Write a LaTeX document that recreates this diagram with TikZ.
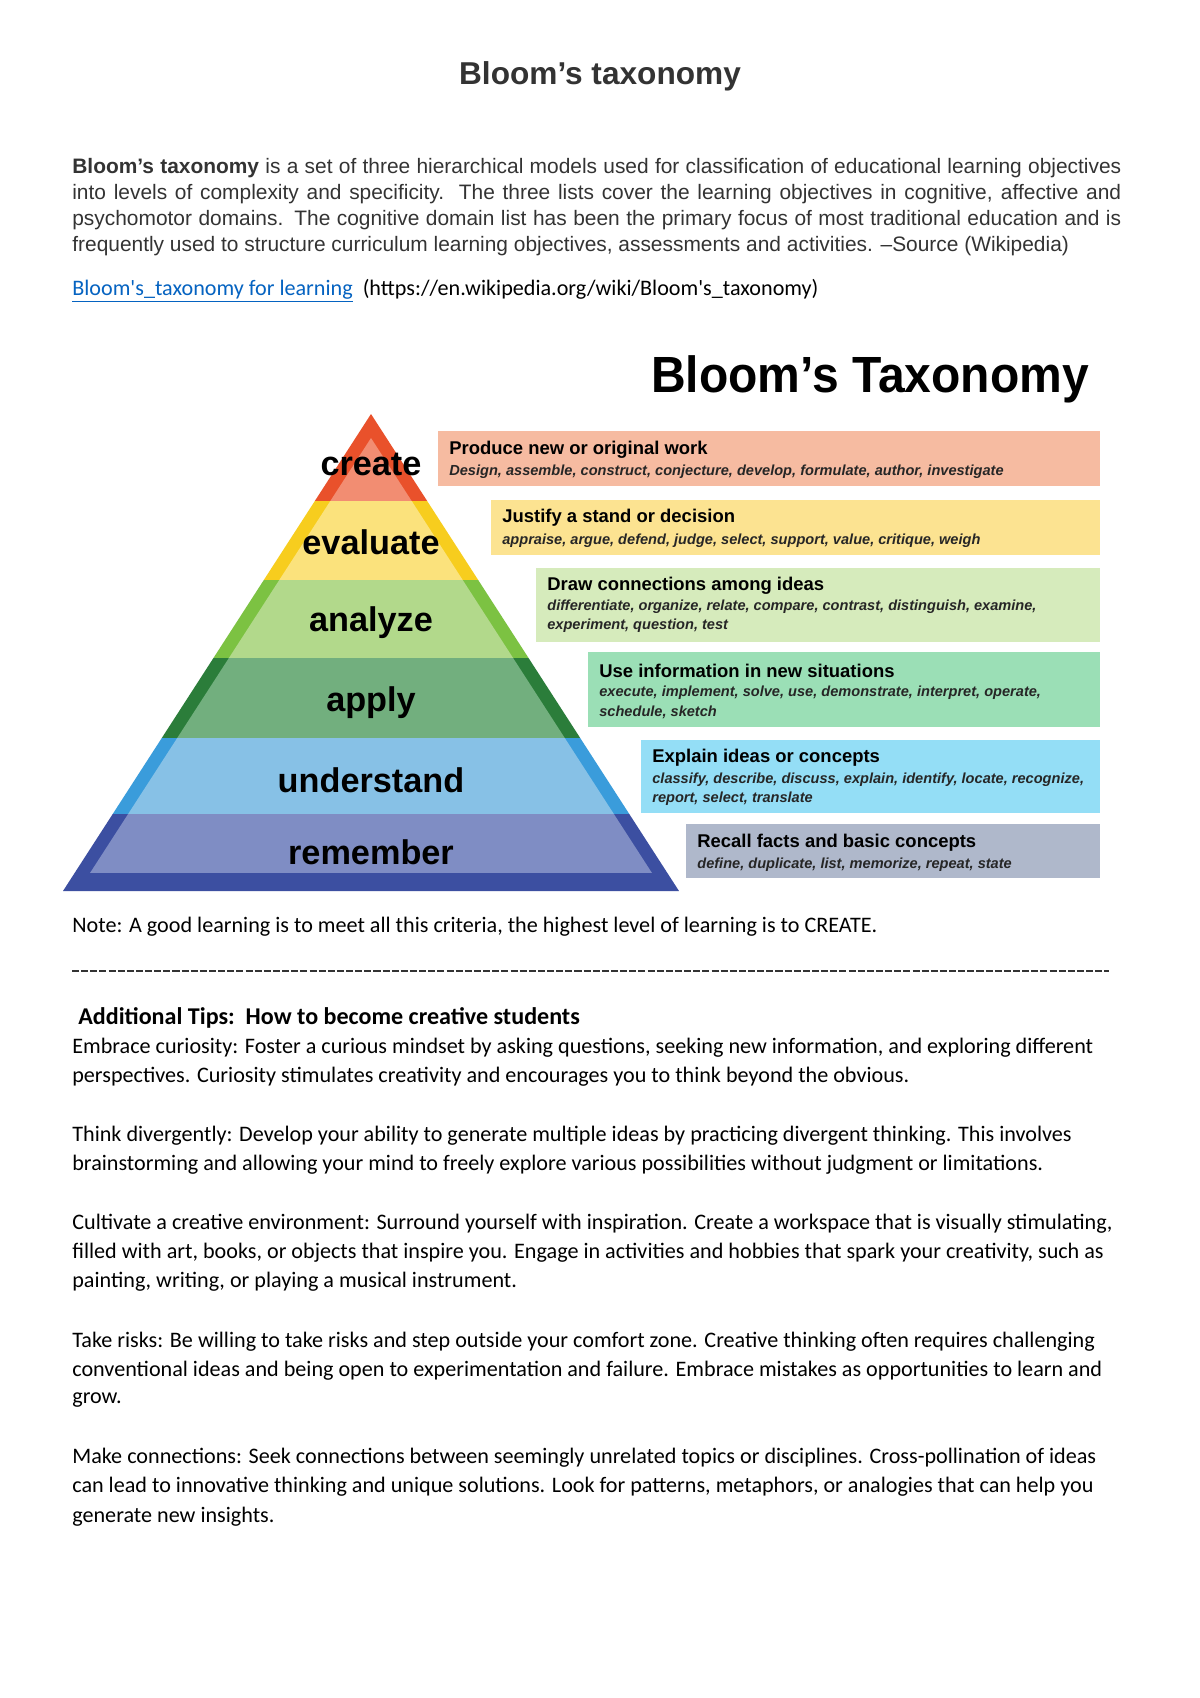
\documentclass[tikz,border=0pt]{standalone}
\usepackage{fontspec}
\setmainfont{Liberation Sans}
\newfontfamily\carlfont{Carlito}
\usepackage{graphicx}
\definecolor{dcre}{HTML}{E9512B}\definecolor{lcre}{HTML}{F28D72}
\definecolor{deva}{HTML}{F7CD1E}\definecolor{leva}{HTML}{FBE27C}
\definecolor{dana}{HTML}{7CC242}\definecolor{lana}{HTML}{B2D98B}
\definecolor{dapp}{HTML}{2B7D3A}\definecolor{lapp}{HTML}{72AF7E}
\definecolor{dund}{HTML}{3A9CDB}\definecolor{lund}{HTML}{87C1E6}
\definecolor{drem}{HTML}{3C4FA1}\definecolor{lrem}{HTML}{7F8DC4}
\definecolor{bcre}{HTML}{F6BBA1}\definecolor{beva}{HTML}{FCE391}
\definecolor{bana}{HTML}{D6EBBC}\definecolor{bapp}{HTML}{9BDFB6}
\definecolor{bund}{HTML}{94DEF6}\definecolor{brem}{HTML}{AFB8CB}
\definecolor{linkblue}{HTML}{0563C1}
\tikzset{
 lvl/.style={font=\fontsize{19.5pt}{20pt}\selectfont\bfseries, text=black},
 btitle/.style={anchor=west, inner sep=0pt, font=\fontsize{10.5pt}{11pt}\selectfont\bfseries},
 bitem/.style={anchor=west, inner sep=0pt, font=\fontsize{8.3pt}{9pt}\selectfont\bfseries\itshape, text=black!85},
 para/.style={anchor=west, inner sep=0pt, font=\fontsize{11.9pt}{13pt}\selectfont, text=black!80},
 tip/.style={anchor=west, inner sep=0pt, font=\carlfont\fontsize{12.6pt}{13pt}\selectfont},
}
\newcommand{\jl}[1]{{\spaceskip=0.25em plus 1em minus 0.12em\makebox[597pt][s]{#1}}}
\begin{document}
\begin{tikzpicture}[x=0.02cm,y=-0.02cm]
\useasboundingbox (0,0) rectangle (1200,1698);
\fill[white] (0,0) rectangle (1200,1698);
% header
\node[font=\fontsize{18pt}{20pt}\selectfont\bfseries, text=black!80] (ttl) at (600,76) {Bloom's taxonomy};
\node[para] (p1) at (72,168) {\jl{\textbf{Bloom's taxonomy} is a set of three hierarchical models used for classification of educational learning objectives}};
\node[para] (p2) at (72,194) {\jl{into levels of complexity and specificity. The three lists cover the learning objectives in cognitive, affective and}};
\node[para] (p3) at (72,220) {\jl{psychomotor domains. The cognitive domain list has been the primary focus of most traditional education and is}};
\node[para] (p4) at (72,246) {frequently used to structure curriculum learning objectives, assessments and activities. --Source (Wikipedia)};
\node[tip] (lnk) at (72,291) {\textcolor{linkblue}{\underline{Bloom's\_taxonomy for learning}}\ \ (https://en.wikipedia.org/wiki/Bloom's\_taxonomy)};
% big title
\node (bt) at (870,379) {\resizebox*{249pt}{27pt}{\bfseries Bloom’s Taxonomy}};
% pyramid outer
\begin{scope}
\clip (371,414) -- (679,891) -- (63,891) -- cycle;
\fill[dcre] (0,400) rectangle (800,501);
\fill[deva] (0,501) rectangle (800,580);
\fill[dana] (0,580) rectangle (800,658);
\fill[dapp] (0,658) rectangle (800,738);
\fill[dund] (0,738) rectangle (800,814);
\fill[drem] (0,814) rectangle (800,900);
\end{scope}
\begin{scope}
\clip (371,438) -- (652,873) -- (90,873) -- cycle;
\fill[lcre] (0,400) rectangle (800,501);
\fill[leva] (0,501) rectangle (800,580);
\fill[lana] (0,580) rectangle (800,658);
\fill[lapp] (0,658) rectangle (800,738);
\fill[lund] (0,738) rectangle (800,814);
\fill[lrem] (0,814) rectangle (800,873);
\end{scope}
\node[lvl] (lc) at (371,464) {create};
\node[lvl] (le) at (371,542) {evaluate};
\node[lvl] (la) at (371,623) {analyze};
\node[lvl] (lp) at (371,703) {apply};
\node[lvl] (lu) at (371,780) {understand};
\node[lvl] (lr) at (371,852) {remember};
% boxes
\fill[bcre] (438,431) rectangle (1100,486);
\node[btitle] (t1) at (449,450) {Produce new or original work};
\node[bitem] (i1) at (449,472) {Design, assemble, construct, conjecture, develop, formulate, author, investigate};
\fill[beva] (491,500) rectangle (1100,555);
\node[btitle] (t2) at (502,518) {Justify a stand or decision};
\node[bitem] (i2) at (502,541) {appraise, argue, defend, judge, select, support, value, critique, weigh};
\fill[bana] (536,568) rectangle (1100,642);
\node[btitle] (t3) at (547,586) {Draw connections among ideas};
\node[bitem] (i3) at (547,607) {differentiate, organize, relate, compare, contrast, distinguish, examine,};
\node[bitem] (i3b) at (547,626) {experiment, question, test};
\fill[bapp] (588,652) rectangle (1100,727);
\node[btitle] (t4) at (599,671) {Use information in new situations};
\node[bitem] (i4) at (599,693) {execute, implement, solve, use, demonstrate, interpret, operate,};
\node[bitem] (i4b) at (599,712) {schedule, sketch};
\fill[bund] (641,740) rectangle (1100,813);
\node[btitle] (t5) at (652,758) {Explain ideas or concepts};
\node[bitem] (i5) at (652,780) {classify, describe, discuss, explain, identify, locate, recognize,};
\node[bitem] (i5b) at (652,799) {report, select, translate};
\fill[brem] (686,824) rectangle (1100,878);
\node[btitle] (t6) at (697,843) {Recall facts and basic concepts};
\node[bitem] (i6) at (697,865) {define, duplicate, list, memorize, repeat, state};
% notes
\node[tip] (note) at (72,927) {Note: A good learning is to meet all this criteria, the highest level of learning is to CREATE.};
\coordinate (dl) at (72,971); \coordinate (dr) at (1109,971);
\draw[black!80, line width=0.6pt, dash pattern=on 4pt off 1.2pt] (dl) -- (dr);
\node[tip, font=\carlfont\fontsize{13.7pt}{14pt}\selectfont\bfseries] (at) at (78,1018) {Additional Tips:\ \ How to become creative students};
\node[tip] (a1) at (72,1048) {Embrace curiosity: Foster a curious mindset by asking questions, seeking new information, and exploring different};
\node[tip] (a2) at (72,1077) {perspectives. Curiosity stimulates creativity and encourages you to think beyond the obvious.};
\node[tip] (b1) at (72,1136) {Think divergently: Develop your ability to generate multiple ideas by practicing divergent thinking. This involves};
\node[tip] (b2) at (72,1165) {brainstorming and allowing your mind to freely explore various possibilities without judgment or limitations.};
\node[tip] (c1) at (72,1224) {Cultivate a creative environment: Surround yourself with inspiration. Create a workspace that is visually stimulating,};
\node[tip] (c2) at (72,1253) {filled with art, books, or objects that inspire you. Engage in activities and hobbies that spark your creativity, such as};
\node[tip] (c3) at (72,1282) {painting, writing, or playing a musical instrument.};
\node[tip] (d1) at (72,1342) {Take risks: Be willing to take risks and step outside your comfort zone. Creative thinking often requires challenging};
\node[tip] (d2) at (72,1371) {conventional ideas and being open to experimentation and failure. Embrace mistakes as opportunities to learn and};
\node[tip] (d3) at (72,1400) {grow.};
\node[tip] (e1) at (72,1458) {Make connections: Seek connections between seemingly unrelated topics or disciplines. Cross-pollination of ideas};
\node[tip] (e2) at (72,1487) {can lead to innovative thinking and unique solutions. Look for patterns, metaphors, or analogies that can help you};
\node[tip] (e3) at (72,1517) {generate new insights.};
\end{tikzpicture}
\end{document}
